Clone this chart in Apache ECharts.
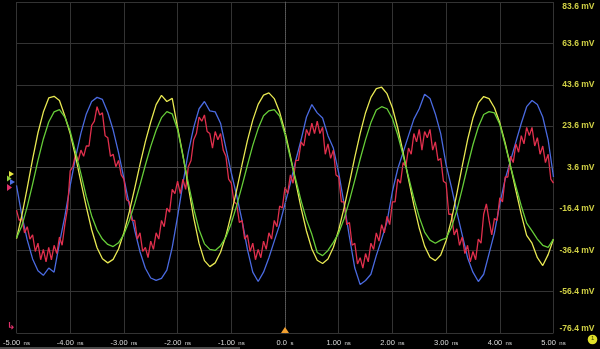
<!DOCTYPE html>
<html><head><meta charset="utf-8">
<script src="https://cdn.jsdelivr.net/npm/echarts@6/dist/echarts.min.js"></script>
<style>html,body{margin:0;padding:0;background:#000;}#c{width:600px;height:349px;}</style>
</head><body><div id="c"></div>
<script>
// time base of the acquisition (ns)
const T_START = -5.0;
const STEP_MAIN = 0.1;   // sample spacing for yellow, green, blue
const STEP_RED = 0.05;   // sample spacing for red

const xTickLabels = ['-5.00 ns','-4.00 ns','-3.00 ns','-2.00 ns','-1.00 ns','0.0 s','1.00 ns','2.00 ns','3.00 ns','4.00 ns','5.00 ns'];
const yTickLabels = ['-76.4 mV','-56.4 mV','-36.4 mV','-16.4 mV','3.6 mV','23.6 mV','43.6 mV','63.6 mV','83.6 mV'];

// mV values
const yellowMv = [-30.8,-19.5,-6.2,7.7,20.4,30.4,37.2,38.0,36.0,28.5,
 20.0,8.9,-3.5,-15.4,-26.5,-35.2,-40.5,-42.5,-40.8,-35.8,
 -27.9,-17.9,-6.6,5.1,16.1,25.6,34.0,38.5,35.5,37.0,
 22.9,9.5,-5.8,-20.7,-33.1,-41.4,-44.3,-42.5,-37.4,-29.3,
 -18.9,-7.2,5.0,16.6,26.5,34.1,38.6,39.7,36.9,30.4,
 20.9,9.2,-3.5,-16.0,-27.1,-35.8,-41.2,-42.8,-40.6,-35.1,
 -26.6,-15.9,-3.8,8.6,20.1,30.1,37.5,41.7,42.4,39.3,
 32.5,22.7,10.8,-2.0,-14.6,-25.7,-34.4,-39.8,-41.4,-38.7,
 -31.8,-21.6,-9.0,4.3,17.0,27.5,34.8,37.9,36.9,32.5,
 25.2,15.5,4.2,-7.6,-19.1,-29.2,-33.0,-40.0,-43.8,-38.5,-31.0];

const greenMv = [-30.5,-24.6,-15.3,-4.4,7.0,17.4,25.6,30.5,31.6,28.0,
 21.0,11.0,0.5,-10.5,-19.8,-26.6,-31.0,-33.6,-34.6,-32.8,
 -28.7,-22.2,-14.0,-4.8,4.8,13.8,21.6,27.7,30.6,29.5,
 22.0,9.0,-4.1,-16.3,-26.5,-33.3,-36.0,-36.5,-34.2,-30.0,
 -23.3,-14.8,-5.3,4.7,14.3,22.4,28.6,31.0,31.6,28.5,
 19.5,8.2,-2.2,-12.5,-21.6,-28.7,-37.5,-39.0,-36.5,-32.6,
 -28.1,-21.2,-12.4,-2.5,7.7,17.1,25.3,31.4,33.0,32.0,
 27.3,19.3,9.5,-1.0,-11.3,-20.4,-27.6,-31.5,-33.0,-31.5,
 -30.5,-25.4,-17.1,-6.7,4.2,14.6,23.2,29.2,30.6,30.0,
 24.5,14.5,4.1,-5.6,-15.0,-23.3,-27.0,-31.0,-34.0,-35.0,-31.0];

const blueMv = [-5.0,-19.7,-31.4,-40.6,-46.3,-48.5,-45.0,-47.0,-33.0,-20.0,
 -5.0,8.5,20.2,29.5,35.5,37.5,36.5,30.2,21.7,10.8,
 -1.6,-14.4,-26.6,-37.1,-45.1,-49.8,-51.0,-50.0,-46.0,-35.0,
 -20.0,-4.0,11.0,23.0,32.0,35.5,31.0,30.5,25.0,13.0,
 1.0,-10.0,-22.0,-36.0,-47.0,-51.5,-47.0,-40.0,-32.0,-24.0,
 -14.0,-4.0,7.0,17.0,28.0,34.0,30.0,27.5,19.0,13.0,
 1.0,-14.0,-30.0,-45.0,-53.0,-51.0,-48.0,-39.0,-31.0,-22.6,
 -8.0,3.0,11.0,19.0,27.0,32.0,39.0,37.0,29.5,20.0,
 5.0,-6.0,-18.0,-29.0,-40.0,-47.0,-51.5,-48.0,-38.0,-28.0,
 -14.0,-2.0,7.0,16.0,25.0,33.0,36.0,34.0,28.0,17.0,-1.0];

const redMv = [-17,-22,-21,-28,-25,-31,-29,-37,-33,-41,
 -36,-42,-35,-41,-34,-38,-30,-34,-24,-16,
 2,4,10,7,12,9,14,14,24,26,
 33,29,30,19,18,9,10,4,7,0,
 -2,-12,-13,-22,-22,-31,-28,-37,-35,-40,
 -32,-36,-28,-31,-22,-25,-16,-18,-7,-9,
 -3,-9,-2,-7,4,7,17,20,28,26,
 29,21,20,13,21,17,20,12,9,-2,
 -4,-13,-14,-23,-22,-31,-29,-37,-33,-41,
 -36,-40,-32,-36,-28,-31,-22,-25,-15,-16,
 -6,-9,0,-4,7,7,16,14,22,19,
 25,20,26,20,23,10,15,8,12,0,
 -1,-13,-13,-24,-23,-34,-33,-43,-40,-45,
 -38,-42,-33,-36,-28,-32,-24,-28,-20,-24,
 -13,-13,-2,-4,6,4,13,10,20,16,
 22,12,21,18,22,12,16,7,8,-3,
 -4,-19,-19,-29,-26,-34,-30,-38,-34,-42,
 -37,-41,-31,-33,-19,-14,-22,-29,-21,-22,
 -11,-13,-1,-1,9,6,15,11,19,15,
 23,19,23,14,18,10,14,6,10,-2,-4];

function pairs(arr, step){ return arr.map((v,i)=>[+(T_START+i*step).toFixed(3), v]); }
function trace(name, arr, step, color, z){
  return {name, type:'line', data:pairs(arr, step), showSymbol:false, symbol:'none',
    lineStyle:{color, width:1.3}, itemStyle:{color}, z, silent:true, animation:false};
}

const chart = echarts.init(document.getElementById('c'));
const labelFont = 'Liberation Sans';
const series = [
  trace('blue', blueMv, STEP_MAIN, '#4a6ae0', 2),
  trace('red', redMv, STEP_RED, '#e02f4c', 3),
  trace('yellow', yellowMv, STEP_MAIN, '#e8e852', 4),
  trace('green', greenMv, STEP_MAIN, '#66cc38', 5)
];
series[0].markLine = {silent:true, symbol:'none', label:{show:false},
  lineStyle:{type:'dotted', color:'#5a5a5a', width:1},
  data:[{xAxis:0},{yAxis:3.6}]};
series[0].markPoint = {silent:true, label:{show:false},
  data:[{coord:[0,-76.4], symbol:'triangle', symbolSize:[8,6], symbolOffset:[0,-3], itemStyle:{color:'#f2a030'}}]};

chart.setOption({
  backgroundColor:'#000',
  animation:false,
  grid:{left:16.5, right:46.5, top:2, bottom:14, containLabel:false},
  xAxis:{type:'value', min:-5, max:5, interval:1,
    axisLine:{show:false}, axisTick:{show:false},
    splitLine:{show:true, lineStyle:{color:'#333333', width:1}},
    axisLabel:{margin:4, fontFamily:labelFont,
      formatter:(v)=>{ const s = xTickLabels[Math.round(v)+5] || ''; const p = s.split(' '); return '{n|'+p[0]+'} {u|'+p[1]+'}'; },
      rich:{n:{fontSize:7.5, color:'#dcdcdc', fontFamily:labelFont}, u:{fontSize:6, color:'#dcdcdc', fontFamily:labelFont}}}},
  yAxis:{type:'value', position:'right', min:-76.4, max:83.6, interval:20,
    axisLine:{show:true, lineStyle:{color:'#4a4a4a'}}, axisTick:{show:false},
    splitLine:{show:true, lineStyle:{color:'#333333', width:1}},
    axisLabel:{align:'right', margin:41, color:'#cfcf45', fontSize:8.5, fontWeight:'bold', fontFamily:labelFont,
      verticalAlignMaxLabel:'top', verticalAlignMinLabel:'bottom',
      formatter:(v)=> yTickLabels[Math.round((v+76.4)/20)] || ''}},
  graphic:[
    {type:'polygon', shape:{points:[[9,171],[14,174],[9,177]]}, style:{fill:'#e8e840'}, silent:true},
    {type:'polygon', shape:{points:[[7,175.5],[11.5,178.5],[7,181.5]]}, style:{fill:'#8fcf3a'}, silent:true},
    {type:'polygon', shape:{points:[[10,179],[15,182],[10,185]]}, style:{fill:'#4d6fe3'}, silent:true},
    {type:'polygon', shape:{points:[[7,184],[12,187.5],[7,191]]}, style:{fill:'#e0306a'}, silent:true},
    {type:'text', left:7, top:321, style:{text:'\u21b3', fill:'#e0306a', font:'bold 10px "DejaVu Sans"'}, silent:true},
    {type:'circle', shape:{cx:592.5, cy:339.5, r:4.8}, style:{fill:'#e0e02a'}, silent:true},
    {type:'text', left:591, top:335.5, style:{text:'1', fill:'#3a3a00', font:'6px "Liberation Sans"'}, silent:true},
    {type:'rect', shape:{x:0, y:347, width:240, height:2}, style:{fill:'#4a4a4a'}, silent:true}
  ],
  series
});
</script></body></html>
